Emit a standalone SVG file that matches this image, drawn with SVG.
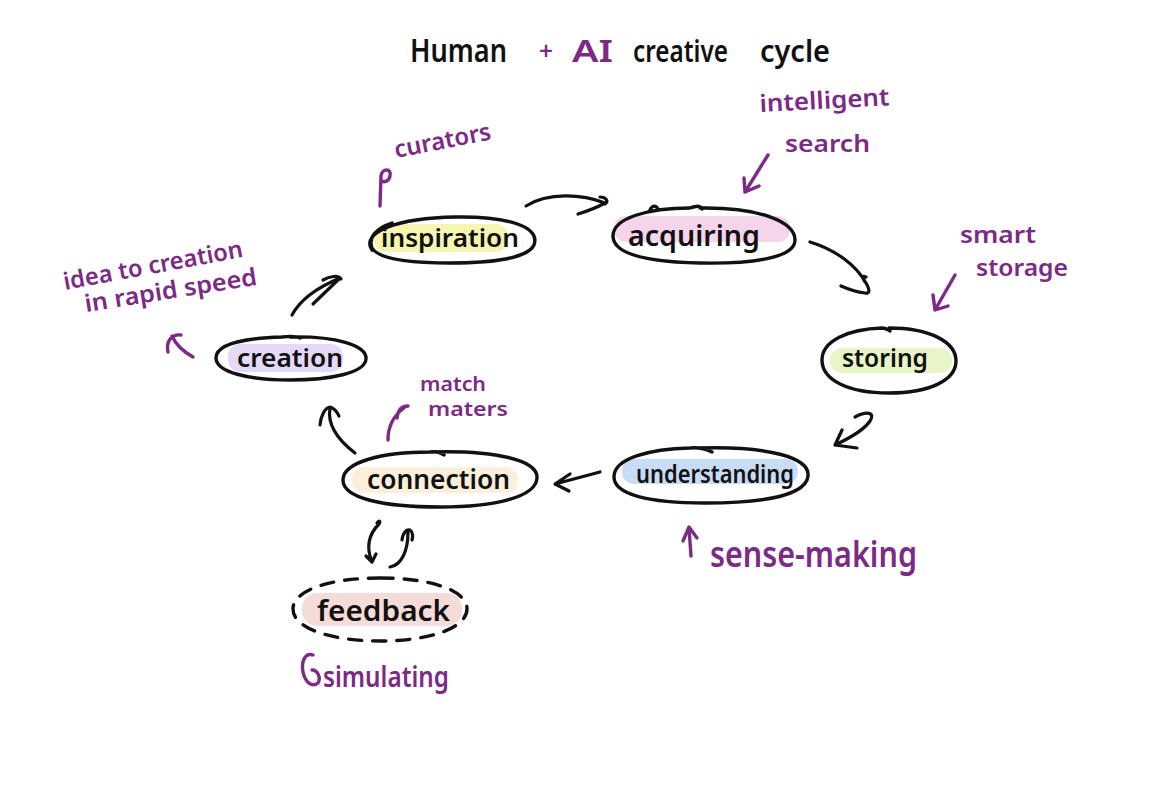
<svg xmlns="http://www.w3.org/2000/svg" width="1164" height="790" viewBox="0 0 1164 790">
<style>
.edge{fill:none;stroke:#111;stroke-width:3.2;stroke-linecap:round;stroke-linejoin:round}
.ring{fill:none;stroke:#111;stroke-width:3.4;stroke-linecap:round;stroke-linejoin:round}
.dash{stroke-dasharray:13 11}
.lbl{font-family:"Noto Sans","Liberation Sans",sans-serif;font-weight:600;fill:#111}
.ann{font-family:"Noto Sans","Liberation Sans",sans-serif;font-weight:600;fill:#7b2a85}
.pa{fill:none;stroke:#7b2a85;stroke-width:3.4;stroke-linecap:round;stroke-linejoin:round}
.hl{stroke:none}
</style>
<rect width="1164" height="790" fill="#ffffff"/>

<g id="title">
<text class="lbl" x="410" y="62" font-size="32" textLength="97" lengthAdjust="spacingAndGlyphs">Human</text>
<text class="ann" x="539" y="60" font-size="26" textLength="14" lengthAdjust="spacingAndGlyphs">+</text>
<text class="ann" x="572" y="62" font-size="30" textLength="41" lengthAdjust="spacingAndGlyphs">AI</text>
<text class="lbl" x="633" y="62" font-size="30" textLength="95" lengthAdjust="spacingAndGlyphs">creative</text>
<text class="lbl" x="760" y="62" font-size="30" textLength="70" lengthAdjust="spacingAndGlyphs">cycle</text>
</g>

<g id="node-inspiration">
<rect class="hl" x="374" y="224" width="134" height="28" rx="12" fill="#f7f5b2"/>
<path class="ring" d="M372,250 C360,232 398,218 455,217 C512,216 540,228 534,245 C528,258 492,263 450,263 C404,263 378,258 372,248 C368,238 376,228 392,223"/>
<text class="lbl" x="381" y="247" font-size="25" textLength="138" lengthAdjust="spacingAndGlyphs">inspiration</text>
</g>

<g id="node-acquiring">
<rect class="hl" x="614" y="216" width="176" height="26" rx="12" fill="#f5d4ec"/>
<path class="ring" d="M700,208 C760,207 795,222 795,240 C795,258 752,264 700,263 C650,262 613,255 613,236 C613,218 648,208 690,208 C696,206 700,205 702,209"/>
<path class="ring" d="M650,210 C652,205 656,205 658,209"/>
<text class="lbl" x="628" y="246" font-size="28" textLength="132" lengthAdjust="spacingAndGlyphs">acquiring</text>
</g>

<g id="node-storing">
<rect class="hl" x="830" y="348" width="122" height="25" rx="12" fill="#e7f5c7"/>
<path class="ring" d="M889,328 C930,328 956,342 956,361 C956,380 930,393 889,393 C848,393 822,380 822,360 C822,341 848,329 882,328 C886,328 888,330 890,331"/>
<text class="lbl" x="842" y="367" font-size="26" textLength="86" lengthAdjust="spacingAndGlyphs">storing</text>
</g>

<g id="node-understanding">
<rect class="hl" x="622" y="459" width="176" height="25" rx="12" fill="#c9dcf6"/>
<path class="ring" d="M700,448 C770,446 810,458 808,476 C806,495 765,503 705,503 C650,503 613,495 614,476 C615,458 650,449 690,448 C700,447 708,450 712,452"/>
<text class="lbl" x="636" y="483" font-size="25" textLength="158" lengthAdjust="spacingAndGlyphs">understanding</text>
</g>

<g id="node-connection">
<rect class="hl" x="352" y="467" width="166" height="26" rx="12" fill="#fcefdc"/>
<path class="ring" d="M430,452 C495,450 538,460 537,478 C536,497 495,507 440,507 C382,507 343,498 343,480 C343,462 382,452 430,452 C436,451 440,452 444,455"/>
<text class="lbl" x="367" y="489" font-size="27" textLength="143" lengthAdjust="spacingAndGlyphs">connection</text>
</g>

<g id="node-creation">
<rect class="hl" x="228" y="344" width="115" height="28" rx="12" fill="#e5d9f8"/>
<path class="ring" d="M290,337 C335,336 367,345 366,359 C365,373 330,380 290,380 C248,380 216,372 216,358 C216,344 245,338 282,337 C290,336 296,336 300,338"/>
<text class="lbl" x="237" y="367" font-size="25" textLength="106" lengthAdjust="spacingAndGlyphs">creation</text>
</g>

<g id="node-feedback">
<rect class="hl" x="302" y="593" width="160" height="33" rx="15" fill="#f6dcd8"/>
<path class="ring dash" d="M380,578 C430,578 467,590 467,609 C467,628 430,641 380,641 C330,641 293,628 293,609 C293,590 330,578 380,578"/>
<text class="lbl" x="317" y="621" font-size="29" textLength="133" lengthAdjust="spacingAndGlyphs">feedback</text>
</g>

<g id="connectors">
<path class="edge" d="M526,206 C548,192 582,194 605,203 C596,208 588,211 578,214 M600,197 C606,197 609,201 605,204"/>
<path class="edge" d="M810,242 C836,250 856,265 866,283 C870,290 870,294 865,293 C857,292 850,290 841,286 M866,283 C862,278 862,275 866,277"/>
<path class="edge" d="M855,417 C866,411 876,412 870,421 C864,430 850,438 835,445 M842,430 L835,445 L857,448"/>
<path class="edge" d="M600,472 L555,484 M570,474 L555,484 L569,491"/>
<path class="edge" d="M355,453 C338,440 327,425 330,408 M320,425 C321,415 325,408 330,407 C334,408 337,412 339,416"/>
<path class="edge" d="M292,315 C300,300 316,288 340,278 L313,304 M323,280 C330,276 338,275 341,279"/>
<path class="edge" d="M377,523 C379,520 381,521 379,524 C370,533 365,545 372,562 M366,556 L372,562 L376,554"/>
<path class="edge" d="M390,567 C402,565 408,550 408,532 M402,540 C403,532 407,529 410,530 C413,532 413,537 412,540"/>
</g>

<g id="annotations">
<text class="ann" transform="translate(396,158) rotate(-11)" font-size="24" textLength="98" lengthAdjust="spacingAndGlyphs">curators</text>
<path class="pa" d="M380,206 L381,176 C382,168 392,168 390,176 C389,182 383,183 381,180"/>

<text class="ann" transform="translate(760,112) rotate(-3)" font-size="24" textLength="130" lengthAdjust="spacingAndGlyphs">intelligent</text>
<text class="ann" x="785" y="152" font-size="24" textLength="85" lengthAdjust="spacingAndGlyphs">search</text>
<path class="pa" d="M768,155 L745,192 M744,178 L745,192 L759,186"/>

<text class="ann" x="960" y="243" font-size="24" textLength="76" lengthAdjust="spacingAndGlyphs">smart</text>
<text class="ann" x="976" y="276" font-size="24" textLength="92" lengthAdjust="spacingAndGlyphs">storage</text>
<path class="pa" d="M955,275 L935,310 M933,295 L935,310 L948,306"/>

<text class="ann" transform="translate(65,290) rotate(-10.5)" font-size="24" textLength="182" lengthAdjust="spacingAndGlyphs">idea to creation</text>
<text class="ann" transform="translate(86,312) rotate(-9)" font-size="24" textLength="174" lengthAdjust="spacingAndGlyphs">in rapid speed</text>
<path class="pa" d="M193,357 C184,352 176,345 172,336 M168,352 C166,343 170,334 181,335"/>

<text class="ann" x="420" y="391" font-size="20" textLength="66" lengthAdjust="spacingAndGlyphs">match</text>
<text class="ann" x="428" y="416" font-size="20" textLength="80" lengthAdjust="spacingAndGlyphs">maters</text>
<path class="pa" d="M388,440 C388,428 393,416 404,408 M397,418 C398,410 402,406 408,406"/>

<text class="ann" x="710" y="567" font-size="36" textLength="207" lengthAdjust="spacingAndGlyphs">sense-making</text>
<path class="pa" d="M691,556 L689,528 M683,541 L689,527 L697,538"/>

<text class="ann" x="323" y="687" font-size="29" textLength="126" lengthAdjust="spacingAndGlyphs">simulating</text>
<path class="pa" d="M313,655 C305,652 301,662 303,672 C305,682 312,688 318,683 C321,678 318,670 312,670"/>
</g>
</svg>
